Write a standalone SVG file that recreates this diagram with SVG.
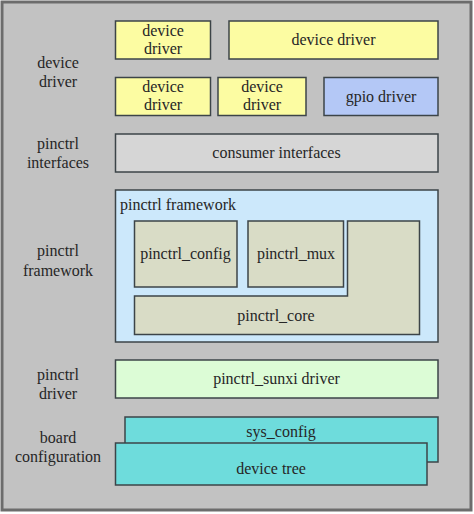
<svg xmlns="http://www.w3.org/2000/svg" width="474" height="514" viewBox="0 0 474 514">
<style>
.b{stroke:#3c4448;stroke-width:1.5}
.t{font-family:'Liberation Serif','DejaVu Serif',serif;font-size:16px;fill:#262626;text-anchor:middle}
.l{font-family:'Liberation Serif','DejaVu Serif',serif;font-size:16px;fill:#262626}
.y{fill:#fcfca2}
</style>
<rect x="0" y="0" width="474" height="514" fill="#ffffff"/>
<rect x="2" y="2" width="469" height="508" fill="#c2c2c2" stroke="#6c6c6c" stroke-width="3"/>
<g id="labels" font-family="Liberation Serif, DejaVu Serif, serif">
<text class="t" x="58" y="68">device</text>
<text class="t" x="58" y="87">driver</text>
<text class="t" x="58" y="149">pinctrl</text>
<text class="t" x="58" y="168">interfaces</text>
<text class="t" x="58" y="256">pinctrl</text>
<text class="t" x="58" y="276">framework</text>
<text class="t" x="58" y="380">pinctrl</text>
<text class="t" x="58" y="399">driver</text>
<text class="t" x="58" y="443">board</text>
<text class="t" x="58" y="462">configuration</text>
</g>
<g id="dd1"><rect class="b y" x="115.5" y="21" width="95" height="38"/><text class="t" x="163" y="36">device</text><text class="t" x="163" y="54">driver</text></g>
<g id="dd2"><rect class="b y" x="229" y="21" width="209" height="38"/><text class="t" x="333.5" y="45">device driver</text></g>
<g id="dd3"><rect class="b y" x="115.5" y="77.5" width="95" height="38"/><text class="t" x="163" y="92">device</text><text class="t" x="163" y="110">driver</text></g>
<g id="dd4"><rect class="b y" x="218" y="77.5" width="88" height="38"/><text class="t" x="262" y="92">device</text><text class="t" x="262" y="110">driver</text></g>
<g id="gpio"><rect class="b" fill="#b4c8f6" x="324" y="77.5" width="114" height="38"/><text class="t" x="381" y="102">gpio driver</text></g>
<g id="consumer"><rect class="b" fill="#d6d6d6" x="115.5" y="134" width="322.5" height="38"/><text class="t" x="276.5" y="158">consumer interfaces</text></g>
<g id="framework"><rect class="b" fill="#cce8fb" x="115.5" y="190" width="322.5" height="152"/><text class="l" x="120" y="210">pinctrl framework</text></g>
<g id="config"><rect class="b" fill="#d9dcc6" x="134.5" y="221" width="102.5" height="66"/><text class="t" x="185.5" y="259">pinctrl_config</text></g>
<g id="mux"><rect class="b" fill="#d9dcc6" x="248" y="221" width="95.5" height="66"/><text class="t" x="296" y="259">pinctrl_mux</text></g>
<g id="core"><path class="b" fill="#d9dcc6" d="M134.5 296H347.5V221H419.5V334.5H134.5Z"/><text class="t" x="276" y="321">pinctrl_core</text></g>
<g id="sunxi"><rect class="b" fill="#dcfcd6" x="115.5" y="360" width="322.5" height="38"/><text class="t" x="276.5" y="384">pinctrl_sunxi driver</text></g>
<g id="sysconfig"><rect class="b" fill="#6edcdc" x="125" y="417" width="313" height="45"/><text class="t" x="281" y="437">sys_config</text></g>
<g id="devicetree"><rect class="b" fill="#6edcdc" x="115.5" y="443" width="311.5" height="42"/><text class="t" x="271" y="474">device tree</text></g>
<g id="connectors"></g>
</svg>
